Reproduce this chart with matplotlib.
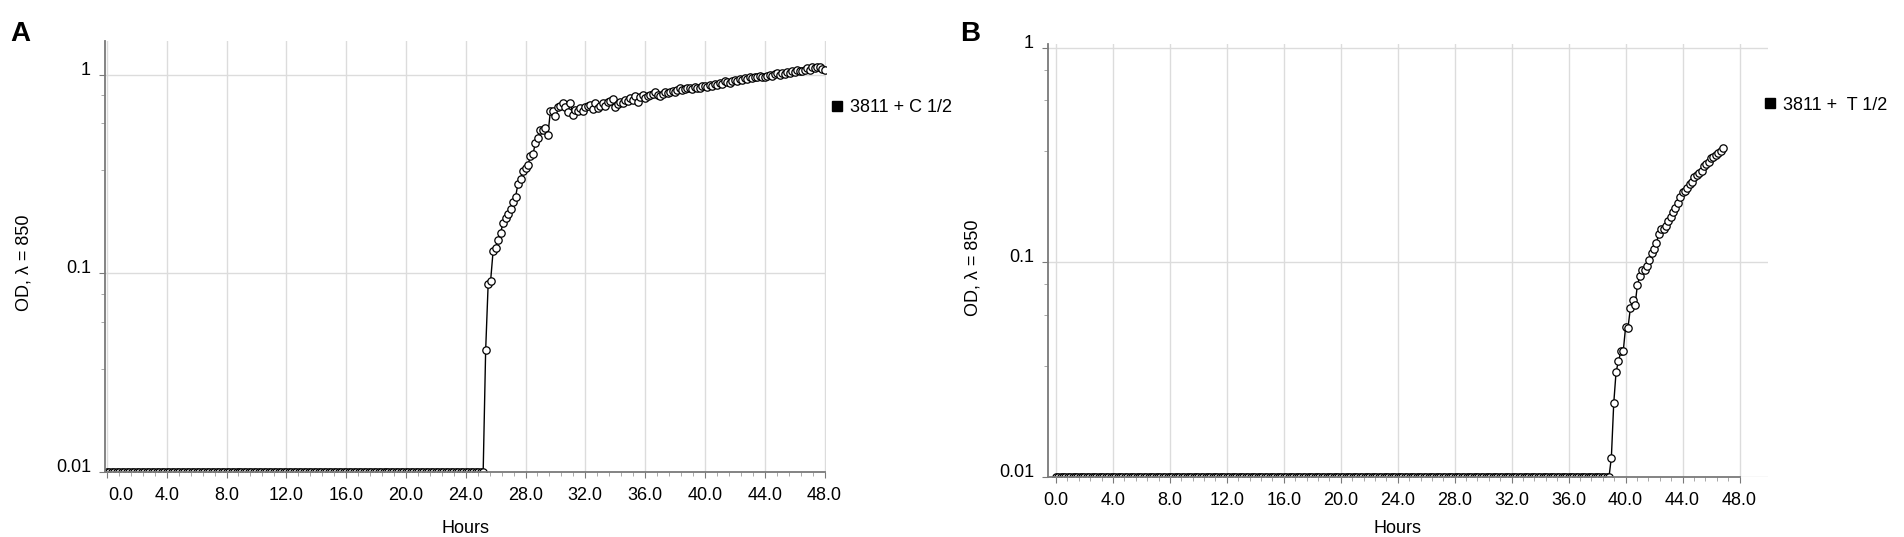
import numpy as np
import matplotlib
matplotlib.use('Agg')
import matplotlib.pyplot as plt
import matplotlib.transforms as mtransforms
from matplotlib.lines import Line2D
from matplotlib.ticker import FixedLocator, LogLocator, NullFormatter

plt.rcParams['font.family'] = ['Liberation Sans', 'DejaVu Sans']

step = 1 / 6  # readings every 10 min
lag_od = 0.01

x_ticks = [0, 4, 8, 12, 16, 20, 24, 28, 32, 36, 40, 44, 48]
x_labels = ['0.0', '4.0', '8.0', '12.0', '16.0', '20.0', '24.0', '28.0',
            '32.0', '36.0', '40.0', '44.0', '48.0']
y_ticks = [0.01, 0.1, 1]
y_labels = ['0.01', '0.1', '1']

# panel A: 3811 + C 1/2
a_label = '3811 + C 1/2'
a_lag_end = 25.17
a_start = 25.333
a_od = [0.041, 0.088, 0.092, 0.13,
        0.135, 0.148, 0.16, 0.18, 0.19, 0.20,
        0.21, 0.228, 0.243, 0.283, 0.30, 0.327,
        0.34, 0.353, 0.389, 0.40, 0.454, 0.48,
        0.53, 0.53, 0.54, 0.50, 0.66, 0.66,
        0.617, 0.69, 0.70, 0.72, 0.69, 0.65,
        0.72, 0.63, 0.667, 0.66, 0.68, 0.66,
        0.69, 0.70, 0.707, 0.67, 0.72, 0.68,
        0.70, 0.72, 0.70, 0.726, 0.74, 0.755,
        0.69, 0.71, 0.73, 0.72, 0.745, 0.74,
        0.76, 0.75, 0.78, 0.73, 0.77, 0.79,
        0.76, 0.78, 0.79, 0.80, 0.815, 0.79,
        0.78, 0.80, 0.82, 0.81, 0.82, 0.83,
        0.82, 0.84, 0.857, 0.84, 0.85, 0.857,
        0.86, 0.85, 0.87, 0.857, 0.86, 0.88,
        0.874, 0.87, 0.89, 0.88, 0.90, 0.89,
        0.91, 0.90, 0.926, 0.92, 0.91, 0.93,
        0.94, 0.93, 0.95, 0.944, 0.96, 0.95,
        0.97, 0.96, 0.98, 0.97, 0.99, 0.98,
        0.97, 0.99, 1.00, 0.99, 1.01, 1.02,
        1.00, 1.02, 1.01, 1.03, 1.02, 1.04,
        1.03, 1.06, 1.04, 1.05, 1.06, 1.08,
        1.06, 1.09, 1.08, 1.10, 1.09, 1.07,
        1.06]

# panel B: 3811 + T 1/2
b_label = '3811 +  T 1/2'
b_lag_end = 38.83
b_start = 39.0
b_od = [0.0123, 0.022, 0.031, 0.0346, 0.0385, 0.0385,
        0.0499, 0.0495, 0.061, 0.067, 0.0636, 0.0787,
        0.0863, 0.0924, 0.092, 0.0958, 0.103, 0.11,
        0.115, 0.123, 0.136, 0.1437, 0.143, 0.148,
        0.155, 0.163, 0.172, 0.179, 0.189, 0.202,
        0.212, 0.216, 0.221, 0.231, 0.237, 0.249,
        0.255, 0.26, 0.267, 0.281, 0.287, 0.294,
        0.305, 0.31, 0.315, 0.322, 0.329, 0.34]

W, H = 1904, 537
fig = plt.figure(figsize=(W / 100, H / 100), dpi=100)

def px_axes(l, r, t, b):
    return fig.add_axes([l / W, 1 - b / H, (r - l) / W, (b - t) / H])

def series(lag_end, start, od):
    t_lag = np.arange(0, lag_end + 0.01, step)
    t_grow = start + step * np.arange(len(od))
    t = np.concatenate([t_lag, t_grow])
    y = np.concatenate([np.full(len(t_lag), lag_od), od])
    return t, y

def setup(ax, xlim, ymax, spine_end):
    ax.set_yscale('log')
    ax.set_xlim(*xlim)
    ax.set_ylim(0.01, ymax)
    ax.xaxis.set_major_locator(FixedLocator(x_ticks))
    ax.set_xticklabels(x_labels)
    ax.xaxis.set_minor_locator(FixedLocator(np.arange(0, spine_end + 0.01, 0.8)))
    ax.yaxis.set_major_locator(FixedLocator(y_ticks))
    ax.set_yticklabels(y_labels)
    ax.yaxis.set_minor_locator(LogLocator(base=10, subs=(3.3, 5.7, 7.9)))
    ax.yaxis.set_minor_formatter(NullFormatter())
    ax.grid(True, which='major', color='#dcdcdc', lw=1)
    ax.set_axisbelow(True)
    for s in ['top', 'right']:
        ax.spines[s].set_visible(False)
    for s in ['left', 'bottom']:
        ax.spines[s].set_color('#7a7a7a')
        ax.spines[s].set_linewidth(1.3)
    ax.spines['bottom'].set_bounds(xlim[0], spine_end)
    ax.tick_params(which='major', length=4, color='#7a7a7a', labelsize=13)
    ax.tick_params(axis='x', which='major', pad=7)
    ax.tick_params(axis='y', which='major', pad=6)
    ax.tick_params(which='minor', length=3, color='#9a9a9a')
    for lbl in ax.get_yticklabels():
        lbl.set_verticalalignment('baseline')
    ax.set_xlabel('Hours', fontsize=13)
    ax.set_ylabel('OD, λ = 850', fontsize=13)

def draw(ax, t, y):
    ax.plot(t, y, '-', color='black', lw=1.0, marker='o', markersize=5.3,
            markerfacecolor='white', markeredgecolor='black', markeredgewidth=0.9)

axA = px_axes(105, 826, 41, 472)
tA, yA = series(a_lag_end, a_start, a_od)
draw(axA, tA, yA)
setup(axA, (-0.13, 48.1), 1.48, 48)
axA.xaxis.set_label_coords(0.5, -0.112)
axA.yaxis.set_label_coords(-0.1, 0.485)
first = axA.get_xticklabels()[0]
first.set_transform(first.get_transform() +
                    mtransforms.ScaledTranslation(0.14, 0, fig.dpi_scale_trans))

axB = px_axes(1048, 1768, 44, 477)
tB, yB = series(b_lag_end, b_start, b_od)
draw(axB, tB, yB)
setup(axB, (-0.56, 50.0), 1.04, 48)
axB.xaxis.set_label_coords(0.486, -0.1)
axB.yaxis.set_label_coords(-0.092, 0.483)

sq = Line2D([0], [0], marker='s', color='black', ls='none', markersize=6.5)
fig.legend(handles=[sq], labels=[a_label], loc='center left',
           bbox_to_anchor=(832 / W, 1 - 108 / H), frameon=False, fontsize=13,
           handlelength=0.6, handletextpad=0.4, borderaxespad=0, borderpad=0)
fig.legend(handles=[sq], labels=[b_label], loc='center left',
           bbox_to_anchor=(1765 / W, 1 - 105 / H), frameon=False, fontsize=13,
           handlelength=0.6, handletextpad=0.4, borderaxespad=0, borderpad=0)

fig.text(10 / W, 1 - 41 / H, 'A', fontsize=20, fontweight='bold', va='baseline')
fig.text(960 / W, 1 - 41 / H, 'B', fontsize=20, fontweight='bold', va='baseline')

fig.savefig('out.png', dpi=100)
